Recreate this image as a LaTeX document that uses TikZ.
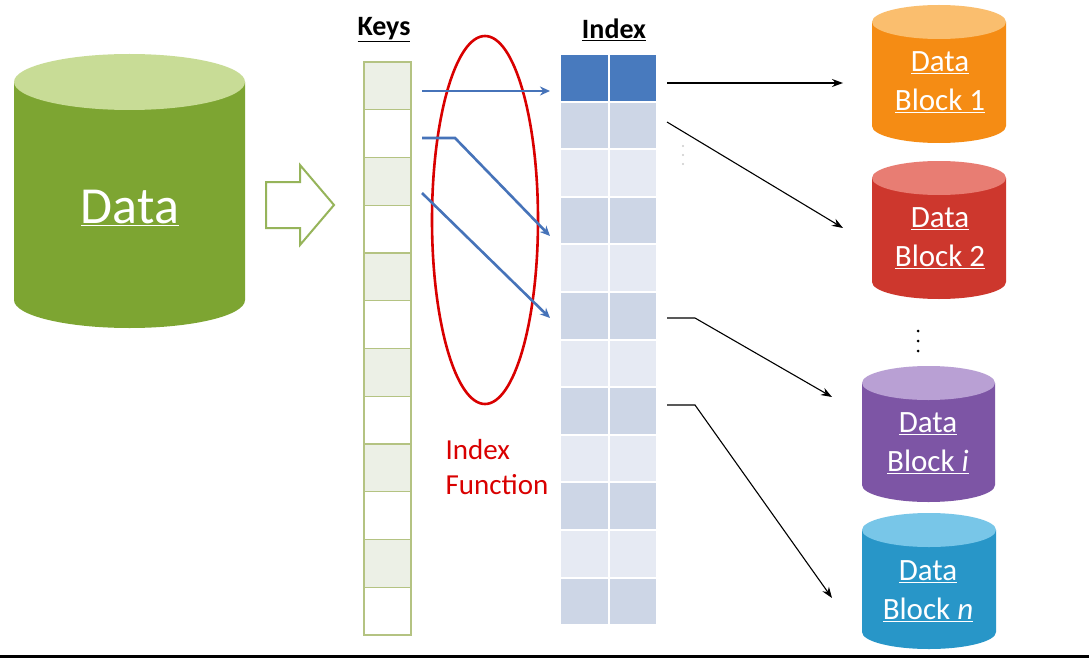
\documentclass[tikz,border=0pt]{standalone}
\usepackage{fontspec}
\setmainfont{Carlito}
\usetikzlibrary{arrows.meta}
\definecolor{gbody}{RGB}{125,165,50}\definecolor{gtop}{RGB}{200,220,150}
\definecolor{obody}{RGB}{245,140,20}\definecolor{otop}{RGB}{250,190,110}
\definecolor{rbody}{RGB}{205,55,45}\definecolor{rtop}{RGB}{232,125,115}
\definecolor{pbody}{RGB}{125,85,165}\definecolor{ptop}{RGB}{185,160,212}
\definecolor{bbody}{RGB}{40,150,200}\definecolor{btop}{RGB}{120,198,232}
\definecolor{keyf}{RGB}{236,240,230}\definecolor{keyd}{RGB}{180,195,130}
\definecolor{idx0}{RGB}{72,122,190}\definecolor{idxd}{RGB}{205,214,230}\definecolor{idxl}{RGB}{230,234,243}
\definecolor{arrb}{RGB}{70,115,185}\definecolor{hollow}{RGB}{150,180,90}
\newcommand{\cyl}[8]{% name,x1,x2,ytop,ybot,ry,body,top
  \fill[#7] (#2,#4) -- (#2,#5) arc[x radius={(#3-#2)/2}, y radius=#6, start angle=180, end angle=0] -- (#3,#4) -- cycle;
  \fill[#8] ({(#2+#3)/2},#4) ellipse[x radius={(#3-#2)/2}, y radius=#6];
  \coordinate (#1) at ({(#2+#3)/2},{(#4+#5)/2+#6/2});
}
\begin{document}
\begin{tikzpicture}[x=1pt,y=-1pt,
  lbl/.style={text=white,font=\fontsize{31}{39}\selectfont,align=center},
  blu/.style={arrb,line width=2.6pt,-{Stealth[length=10pt,width=9pt]}},
  blk/.style={black,line width=1.1pt,-{Stealth[length=11pt,width=8pt]}}]
\useasboundingbox (0,0) rectangle (1089,658);
\fill[white] (0,0) rectangle (1089,658);
\draw[line width=3pt] (0,656) -- (1089,656);
% Data
\cyl{d}{14}{245}{82}{300}{28}{gbody}{gtop}
\node[lbl,font=\fontsize{52}{56}\selectfont] (dl) at (130,208) {\underline{Data}};
% hollow arrow
\draw[line width=2pt,draw=hollow] (266,182) -- (300,182) -- (300,165) -- (334,205) -- (300,245) -- (300,228) -- (266,228) -- cycle;
% keys
\node[font=\bfseries\fontsize{28}{30}\selectfont] (kl) at (384,30) {\underline{Keys}};
\foreach \i in {0,...,11}{
  \pgfmathsetmacro\yy{62+\i*47.75}
  \ifodd\i \def\fc{white}\else\def\fc{keyf}\fi
  \draw[fill=\fc,draw=keyd,line width=1.2pt] (364,\yy) rectangle (411,\yy+47.75);
}
% index
\node[font=\bfseries\fontsize{28}{30}\selectfont] (il) at (614,30) {\underline{Index}};
\foreach \i in {0,...,11}{
  \pgfmathsetmacro\yy{54+\i*47.6}
  \ifnum\i=0 \def\fc{idx0}\else
   \ifodd\i \def\fc{idxd}\else\def\fc{idxl}\fi\fi
  \fill[\fc] (561,\yy+1) rectangle (607.5,\yy+46.6);
  \fill[\fc] (609.5,\yy+1) rectangle (656,\yy+46.6);
}
\foreach \y in {146,155,164}{\fill[gray!40] (683,\y) circle[radius=1.2];}
% ellipse
\draw[red!85!black,line width=2.6pt] (485,220) ellipse[x radius=53,y radius=184];
\node[red!85!black,font=\fontsize{29}{35}\selectfont,align=left] (if) at (497,467) {Index\\Function};
% blue arrows
\coordinate (b1) at (422,91); \coordinate (e1) at (550,91);
\coordinate (b2) at (422,138); \coordinate (m2) at (455,138); \coordinate (e2) at (550,236);
\coordinate (b3) at (422,193); \coordinate (e3) at (550,318);
\draw[blu] (b1) -- (e1);
\draw[blu] (b2) -- (m2) -- (e2);
\draw[blu] (b3) -- (e3);
% blocks
\cyl{c1}{872}{1006}{22}{126}{17}{obody}{otop}
\cyl{c2}{872}{1006}{178}{282}{17}{rbody}{rtop}
\cyl{c3}{862}{995}{383}{485}{17}{pbody}{ptop}
\cyl{c4}{862}{996}{530}{632}{17}{bbody}{btop}
\node[lbl] (t1) at (940,82) {\underline{Data}\\\underline{Block 1}};
\node[lbl] (t2) at (940,238) {\underline{Data}\\\underline{Block 2}};
\node[lbl] (t3) at (928,443) {\underline{Data}\\\underline{Block \textit{i}}};
\node[lbl] (t4) at (928,591) {\underline{Data}\\\underline{Block \textit{n}}};
\foreach \y in {331,341,351}{\fill (918,\y) circle[radius=1.5];}
% black arrows
\coordinate (a1) at (843,83); \coordinate (a2) at (843,228);
\coordinate (a3) at (832,397); \coordinate (a4) at (832,598);
\coordinate (s1) at (667,83); \coordinate (s2) at (667,122);
\coordinate (s3) at (667,318); \coordinate (m3) at (695,318);
\coordinate (s4) at (667,405); \coordinate (m4) at (695,405);
\draw[blk] (s1) -- (a1);
\draw[blk] (s2) -- (a2);
\draw[blk] (s3) -- (m3) -- (a3);
\draw[blk] (s4) -- (m4) -- (a4);
\end{tikzpicture}
\end{document}
